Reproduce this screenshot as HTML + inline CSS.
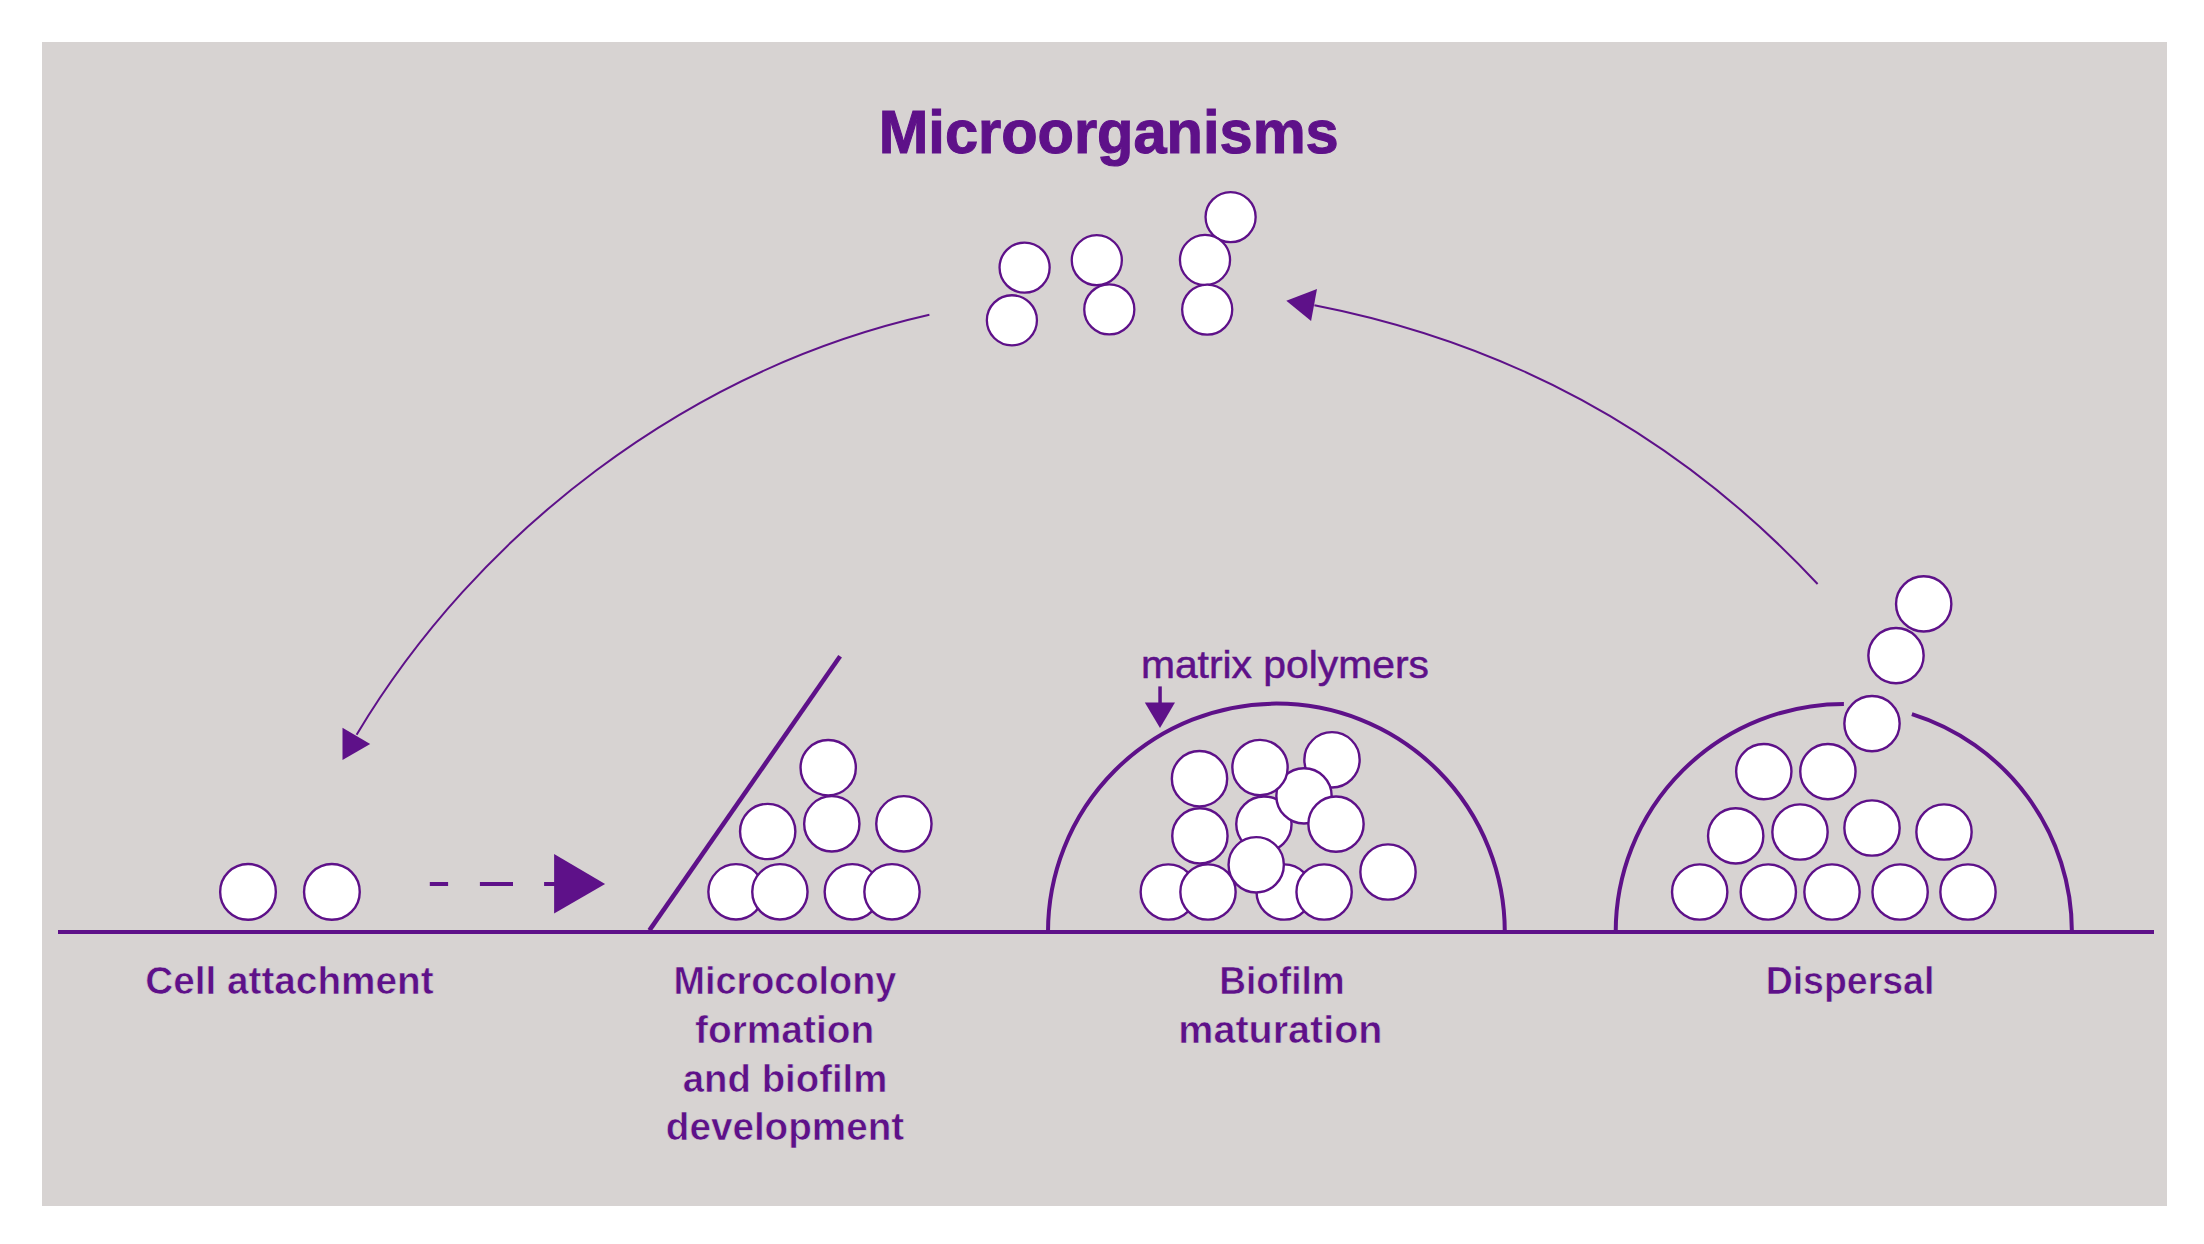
<!DOCTYPE html>
<html><head><meta charset="utf-8"><style>
html,body{margin:0;padding:0;background:#fff;}
svg{display:block;font-family:"Liberation Sans", sans-serif;}
</style></head><body>
<svg width="2204" height="1244" viewBox="0 0 2204 1244">
<rect x="42" y="42" width="2125" height="1164" fill="#d7d3d2"/>
<circle cx="1024.6" cy="267.6" r="25.05" fill="#fff" stroke="#5e1189" stroke-width="2.3"/>
<circle cx="1011.9" cy="320.3" r="25.05" fill="#fff" stroke="#5e1189" stroke-width="2.3"/>
<circle cx="1096.8" cy="260.2" r="25.05" fill="#fff" stroke="#5e1189" stroke-width="2.3"/>
<circle cx="1109.3" cy="309.4" r="25.05" fill="#fff" stroke="#5e1189" stroke-width="2.3"/>
<circle cx="1230.6" cy="217.1" r="25.05" fill="#fff" stroke="#5e1189" stroke-width="2.3"/>
<circle cx="1205" cy="260" r="25.05" fill="#fff" stroke="#5e1189" stroke-width="2.3"/>
<circle cx="1207.2" cy="309.6" r="25.05" fill="#fff" stroke="#5e1189" stroke-width="2.3"/>
<path d="M929.4,314.8 C685.13,370.32 476.73,533.76 356.6,734.7" fill="none" stroke="#5e1189" stroke-width="2"/>
<polygon points="342.5,727.8 342.5,760 370.2,743.9" fill="#5e1189"/>
<path d="M1817.6,584 C1681.42,437.88 1514.17,344.22 1314.4,305.2" fill="none" stroke="#5e1189" stroke-width="2"/>
<polygon points="1286.3,300.7 1317,289.1 1311.1,320.9" fill="#5e1189"/>
<rect x="58" y="930" width="2096" height="4" fill="#5e1189"/>
<circle cx="248" cy="891.9" r="27.85" fill="#fff" stroke="#5e1189" stroke-width="2.4"/>
<circle cx="331.9" cy="891.9" r="27.85" fill="#fff" stroke="#5e1189" stroke-width="2.4"/>
<rect x="429.8" y="882" width="18.30000000000001" height="4" fill="#5e1189"/>
<rect x="479.9" y="882" width="33.10000000000002" height="4" fill="#5e1189"/>
<rect x="544.1" y="882" width="11.899999999999977" height="4" fill="#5e1189"/>
<polygon points="554.1,854.1 554.1,913.5 605.1,884" fill="#5e1189"/>
<line x1="649.4" y1="930.4" x2="840.1" y2="656.2" stroke="#5e1189" stroke-width="4.5"/>
<circle cx="828.2" cy="767.7" r="27.65" fill="#fff" stroke="#5e1189" stroke-width="2.4"/>
<circle cx="767.7" cy="831.5" r="27.65" fill="#fff" stroke="#5e1189" stroke-width="2.4"/>
<circle cx="831.8" cy="823.8" r="27.65" fill="#fff" stroke="#5e1189" stroke-width="2.4"/>
<circle cx="903.9" cy="823.8" r="27.65" fill="#fff" stroke="#5e1189" stroke-width="2.4"/>
<circle cx="736" cy="891.8" r="27.65" fill="#fff" stroke="#5e1189" stroke-width="2.4"/>
<circle cx="779.9" cy="891.8" r="27.65" fill="#fff" stroke="#5e1189" stroke-width="2.4"/>
<circle cx="852.3" cy="891.8" r="27.65" fill="#fff" stroke="#5e1189" stroke-width="2.4"/>
<circle cx="892" cy="891.8" r="27.65" fill="#fff" stroke="#5e1189" stroke-width="2.4"/>
<path d="M1048,932 A228.4,228.4 0 0 1 1504.8,932" fill="none" stroke="#5e1189" stroke-width="4"/>
<rect x="1158.3" y="686.4" width="3.5" height="17" fill="#5e1189"/>
<polygon points="1144.8,702.6 1175,702.6 1160,727.9" fill="#5e1189"/>
<circle cx="1332" cy="759.8" r="27.65" fill="#fff" stroke="#5e1189" stroke-width="2.4"/>
<circle cx="1263.9" cy="824.1" r="27.65" fill="#fff" stroke="#5e1189" stroke-width="2.4"/>
<circle cx="1304" cy="795.9" r="27.65" fill="#fff" stroke="#5e1189" stroke-width="2.4"/>
<circle cx="1260" cy="767.5" r="27.65" fill="#fff" stroke="#5e1189" stroke-width="2.4"/>
<circle cx="1336" cy="824.1" r="27.65" fill="#fff" stroke="#5e1189" stroke-width="2.4"/>
<circle cx="1199.5" cy="778.7" r="27.65" fill="#fff" stroke="#5e1189" stroke-width="2.4"/>
<circle cx="1199.9" cy="835.9" r="27.65" fill="#fff" stroke="#5e1189" stroke-width="2.4"/>
<circle cx="1388" cy="872" r="27.65" fill="#fff" stroke="#5e1189" stroke-width="2.4"/>
<circle cx="1168.3" cy="892" r="27.65" fill="#fff" stroke="#5e1189" stroke-width="2.4"/>
<circle cx="1208" cy="892" r="27.65" fill="#fff" stroke="#5e1189" stroke-width="2.4"/>
<circle cx="1284.2" cy="892" r="27.65" fill="#fff" stroke="#5e1189" stroke-width="2.4"/>
<circle cx="1324.1" cy="892" r="27.65" fill="#fff" stroke="#5e1189" stroke-width="2.4"/>
<circle cx="1256.2" cy="864.8" r="27.65" fill="#fff" stroke="#5e1189" stroke-width="2.4"/>
<path d="M1615.7,932 A228.1,228.1 0 0 1 1843.9,703.9" fill="none" stroke="#5e1189" stroke-width="4"/>
<path d="M1911.9,714.2 A228.1,228.1 0 0 1 2071.9,932" fill="none" stroke="#5e1189" stroke-width="4"/>
<circle cx="1923.7" cy="603.9" r="27.65" fill="#fff" stroke="#5e1189" stroke-width="2.4"/>
<circle cx="1896" cy="655.6" r="27.65" fill="#fff" stroke="#5e1189" stroke-width="2.4"/>
<circle cx="1872" cy="723.6" r="27.65" fill="#fff" stroke="#5e1189" stroke-width="2.4"/>
<circle cx="1763.8" cy="771.6" r="27.65" fill="#fff" stroke="#5e1189" stroke-width="2.4"/>
<circle cx="1827.9" cy="771.6" r="27.65" fill="#fff" stroke="#5e1189" stroke-width="2.4"/>
<circle cx="1735.7" cy="835.9" r="27.65" fill="#fff" stroke="#5e1189" stroke-width="2.4"/>
<circle cx="1800" cy="832" r="27.65" fill="#fff" stroke="#5e1189" stroke-width="2.4"/>
<circle cx="1872" cy="828" r="27.65" fill="#fff" stroke="#5e1189" stroke-width="2.4"/>
<circle cx="1944" cy="832" r="27.65" fill="#fff" stroke="#5e1189" stroke-width="2.4"/>
<circle cx="1699.7" cy="892" r="27.65" fill="#fff" stroke="#5e1189" stroke-width="2.4"/>
<circle cx="1768.3" cy="892" r="27.65" fill="#fff" stroke="#5e1189" stroke-width="2.4"/>
<circle cx="1832" cy="892" r="27.65" fill="#fff" stroke="#5e1189" stroke-width="2.4"/>
<circle cx="1900.1" cy="892" r="27.65" fill="#fff" stroke="#5e1189" stroke-width="2.4"/>
<circle cx="1968" cy="892" r="27.65" fill="#fff" stroke="#5e1189" stroke-width="2.4"/>
<text x="1108.75" y="153" font-size="62" font-weight="bold" stroke="#5e1189" stroke-width="1.1" text-anchor="middle" textLength="460.01" lengthAdjust="spacingAndGlyphs" fill="#5e1189">Microorganisms</text>
<text x="1284.90" y="678" font-size="38" stroke="#5e1189" stroke-width="0.5" text-anchor="middle" textLength="288.01" lengthAdjust="spacingAndGlyphs" fill="#5e1189">matrix polymers</text>
<text x="289.40" y="994" font-size="39" font-weight="bold" stroke="#d7d3d2" stroke-width="0.6" text-anchor="middle" textLength="288.41" lengthAdjust="spacingAndGlyphs" fill="#5e1189">Cell attachment</text>
<text x="784.90" y="994" font-size="39" font-weight="bold" stroke="#d7d3d2" stroke-width="0.6" text-anchor="middle" textLength="223.04" lengthAdjust="spacingAndGlyphs" fill="#5e1189">Microcolony</text>
<text x="784.60" y="1042.5" font-size="39" font-weight="bold" stroke="#d7d3d2" stroke-width="0.6" text-anchor="middle" textLength="179.23" lengthAdjust="spacingAndGlyphs" fill="#5e1189">formation</text>
<text x="785.10" y="1091.5" font-size="39" font-weight="bold" stroke="#d7d3d2" stroke-width="0.6" text-anchor="middle" textLength="204.63" lengthAdjust="spacingAndGlyphs" fill="#5e1189">and biofilm</text>
<text x="785.00" y="1140" font-size="39" font-weight="bold" stroke="#d7d3d2" stroke-width="0.6" text-anchor="middle" textLength="238.42" lengthAdjust="spacingAndGlyphs" fill="#5e1189">development</text>
<text x="1282.00" y="994" font-size="39" font-weight="bold" stroke="#d7d3d2" stroke-width="0.6" text-anchor="middle" textLength="125.51" lengthAdjust="spacingAndGlyphs" fill="#5e1189">Biofilm</text>
<text x="1280.40" y="1042.5" font-size="39" font-weight="bold" stroke="#d7d3d2" stroke-width="0.6" text-anchor="middle" textLength="204.10" lengthAdjust="spacingAndGlyphs" fill="#5e1189">maturation</text>
<text x="1850.00" y="994" font-size="39" font-weight="bold" stroke="#d7d3d2" stroke-width="0.6" text-anchor="middle" textLength="168.69" lengthAdjust="spacingAndGlyphs" fill="#5e1189">Dispersal</text>
</svg>
</body></html>
